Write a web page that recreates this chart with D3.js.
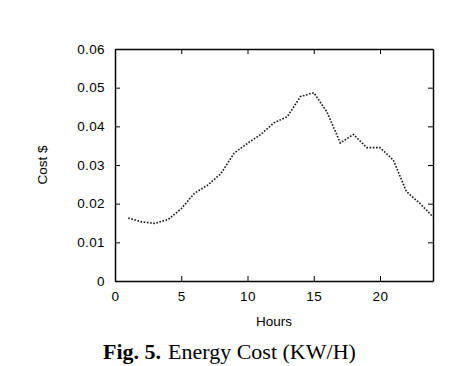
<!DOCTYPE html>
<html>
<head>
<meta charset="utf-8">
<style>
body { margin: 0; background: #fff; }
svg text { font-family: "Liberation Sans", Arial, sans-serif; fill: #000; }
.axis path, .axis line { stroke: #000; }
.line { fill: none; stroke: #111; stroke-width: 1.6px; stroke-dasharray: 1.6,1.6; }
</style>
</head>
<body>
<svg width="474" height="366"></svg>
<script src="https://d3js.org/d3.v7.min.js"></script>
<script>

    // hourly energy cost
    var hours = [1, 2, 3, 4, 5, 6, 7, 8, 9, 10, 11, 12,
                 13, 14, 15, 16, 17, 18, 19, 20, 21, 22, 23, 24];
    var cost = [0.0163, 0.0153, 0.0149, 0.0159, 0.0187, 0.0227, 0.0248, 0.0278,
                0.0331, 0.0356, 0.0379, 0.0409, 0.0425, 0.0477, 0.0487, 0.0437,
                0.0357, 0.0379, 0.0345, 0.0345, 0.0313, 0.0231, 0.0201, 0.0166];
    var xTicks = [0, 5, 10, 15, 20];
    var yTicks = [0, 0.01, 0.02, 0.03, 0.04, 0.05, 0.06];

    var svg = d3.select("svg"),
        margin = {top: 49, right: 41, bottom: 85, left: 115},
        width = +svg.attr("width") - margin.left - margin.right,
        height = +svg.attr("height") - margin.top - margin.bottom;

    var g = svg.append("g")
        .attr("transform", "translate(" + margin.left + "," + margin.top + ")");

    var x = d3.scaleLinear().domain([0, 24]).range([0, width]);
    var y = d3.scaleLinear().domain([0, 0.06]).range([height, 0]);

    var fmtY = function(d) { return d === 0 ? "0" : d3.format(".2f")(d); };

    // axes, ticks pointing inward on all four sides
    g.append("g")
        .attr("class", "axis")
        .attr("transform", "translate(0," + height + ")")
        .call(d3.axisBottom(x).tickValues(xTicks).tickSizeInner(-5).tickSizeOuter(0).tickPadding(10));
    g.append("g")
        .attr("class", "axis")
        .call(d3.axisLeft(y).tickValues(yTicks).tickFormat(fmtY).tickSizeInner(-5).tickSizeOuter(0).tickPadding(10));
    g.append("g")
        .attr("class", "axis")
        .call(d3.axisTop(x).tickValues(xTicks).tickSizeInner(-5).tickSizeOuter(0).tickFormat(""));
    g.append("g")
        .attr("class", "axis")
        .attr("transform", "translate(" + width + ",0)")
        .call(d3.axisRight(y).tickValues(yTicks).tickSizeInner(-5).tickSizeOuter(0).tickFormat(""));

    g.selectAll(".axis text").style("font-size", "13.5px").style("letter-spacing", "0.4px");
    g.selectAll(".axis path").attr("stroke-width", 1.5).attr("stroke", "#222");

    var line = d3.line()
        .x(function(d, i) { return x(hours[i]); })
        .y(function(d) { return y(d); });

    g.append("path")
        .attr("class", "line")
        .attr("d", line(cost));

    // axis titles
    g.append("text")
        .attr("x", width / 2)
        .attr("y", height + 45)
        .attr("text-anchor", "middle")
        .style("font-size", "13.5px")
        .text("Hours");

    g.append("text")
        .attr("transform", "translate(-68," + (height / 2) + ") rotate(-90)")
        .attr("text-anchor", "middle")
        .style("font-size", "13.5px")
        .text("Cost $");

    // figure caption
    var cap = svg.append("text")
        .attr("x", 103)
        .attr("y", 359)
        .style("font-family", "'Liberation Serif', 'DejaVu Serif', serif")
        .style("font-size", "22px");
    cap.append("tspan").style("font-weight", "bold").text("Fig. 5.");
    cap.append("tspan").attr("dx", 7).text("Energy Cost (KW/H)");

</script>
</body>
</html>
